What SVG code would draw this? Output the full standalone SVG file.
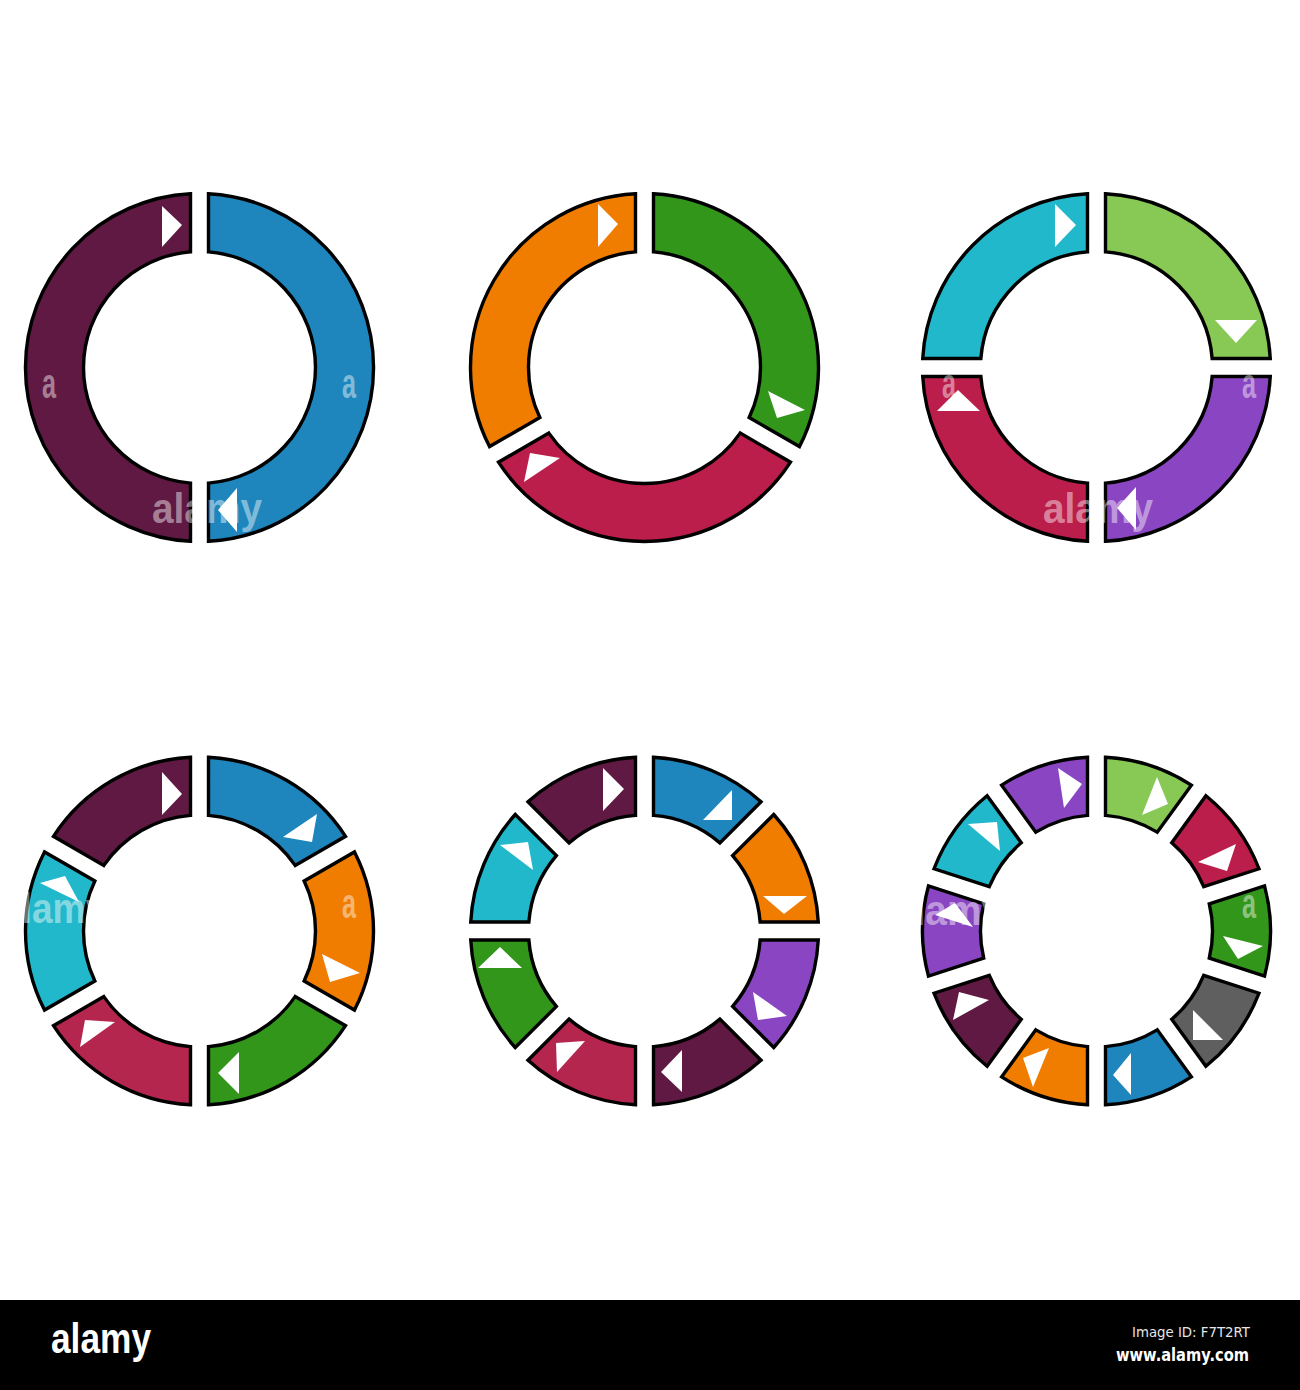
<svg xmlns="http://www.w3.org/2000/svg" width="1300" height="1390" viewBox="0 0 1300 1390">
<style>
.seg{stroke:#000;stroke-width:3.4;stroke-linejoin:miter}
.tri{fill:#fff}
.wm{fill:#fff;fill-opacity:0.45;font-family:"Liberation Sans Narrow","Liberation Sans",Arial,sans-serif;font-weight:bold;font-size:42px}
.logo{fill:#fff;font-family:"Liberation Sans Narrow","Liberation Sans",Arial,sans-serif;font-weight:bold;font-size:42px}
.info{fill:#e6e6e6;font-family:"DejaVu Sans","Open Sans",sans-serif;font-size:14px}
.url{fill:#fff;font-family:"DejaVu Sans","Open Sans",sans-serif;font-weight:bold;font-size:18px}
</style>
<defs>
<path id="seg2" d="M9,-173.77 A174,174 0 0 1 9,173.77 L9,115.65 A116,116 0 0 0 9,-115.65 Z"/>
<path id="seg3" d="M94.68,-145.99 A174,174 0 0 1 94.68,145.99 L65.62,95.66 A116,116 0 0 0 65.62,-95.66 Z"/>
<path id="seg4" d="M129.24,-116.51 A174,174 0 0 1 129.24,116.51 L88.14,75.41 A116,116 0 0 0 88.14,-75.41 Z"/>
<path id="seg6" d="M154.99,-79.09 A174,174 0 0 1 154.99,79.09 L104.66,50.03 A116,116 0 0 0 104.66,-50.03 Z"/>
<path id="seg8" d="M163.98,-58.18 A174,174 0 0 1 163.98,58.18 L110.29,35.94 A116,116 0 0 0 110.29,-35.94 Z"/>
<path id="seg10" d="M168.04,-45.14 A174,174 0 0 1 168.04,45.14 L112.77,27.18 A116,116 0 0 0 112.77,-27.18 Z"/>
</defs>
<rect width="1300" height="1390" fill="#fff"/>

<!-- Ring 1: two segments -->
<g id="ring1">
<g id="r1-purple"><use href="#seg2" class="seg" fill="#5f1942" transform="translate(199.5,367.5) rotate(180)"/><polygon class="tri" points="162,206 162,247 182,225"/></g>
<g id="r1-blue"><use href="#seg2" class="seg" fill="#1e86bc" transform="translate(199.5,367.5)"/><polygon class="tri" points="237,488 237,532 218,510"/></g>
</g>

<!-- Ring 2: three segments -->
<g id="ring2">
<g id="r2-green"><use href="#seg3" class="seg" fill="#31961a" transform="translate(644.5,367.5) rotate(-30)"/><polygon class="tri" points="768,391 777,418 805,410"/></g>
<g id="r2-crimson"><use href="#seg3" class="seg" fill="#bb1e4a" transform="translate(644.5,367.5) rotate(90)"/><polygon class="tri" points="530,453 524,482 560,458"/></g>
<g id="r2-orange"><use href="#seg3" class="seg" fill="#f07d00" transform="translate(644.5,367.5) rotate(210)"/><polygon class="tri" points="598,204 598,247 618,224"/></g>
</g>

<!-- Ring 3: four segments -->
<g id="ring3">
<g id="r3-lightgreen"><use href="#seg4" class="seg" fill="#88c955" transform="translate(1096.5,367.5) rotate(-45)"/><polygon class="tri" points="1215,320 1257,320 1236,343"/></g>
<g id="r3-purple"><use href="#seg4" class="seg" fill="#8a46c2" transform="translate(1096.5,367.5) rotate(45)"/><polygon class="tri" points="1136,487 1136,530 1117,508"/></g>
<g id="r3-crimson"><use href="#seg4" class="seg" fill="#bb1e4a" transform="translate(1096.5,367.5) rotate(135)"/><polygon class="tri" points="937,411 980,411 958,390"/></g>
<g id="r3-cyan"><use href="#seg4" class="seg" fill="#22b8cb" transform="translate(1096.5,367.5) rotate(225)"/><polygon class="tri" points="1055,204 1055,247 1076,225"/></g>
</g>

<!-- Ring 4: six segments -->
<g id="ring4">
<g id="r4-blue"><use href="#seg6" class="seg" fill="#1e86bc" transform="translate(199.5,931) rotate(-60)"/><polygon class="tri" points="283,837 317,814 312,842"/></g>
<g id="r4-orange"><use href="#seg6" class="seg" fill="#f07d00" transform="translate(199.5,931)"/><polygon class="tri" points="322,954 330,982 360,973"/></g>
<g id="r4-green"><use href="#seg6" class="seg" fill="#31961a" transform="translate(199.5,931) rotate(60)"/><polygon class="tri" points="239,1052 239,1094 218,1073"/></g>
<g id="r4-crimson"><use href="#seg6" class="seg" fill="#b5264f" transform="translate(199.5,931) rotate(120)"/><polygon class="tri" points="85,1020 80,1047 115,1022"/></g>
<g id="r4-cyan"><use href="#seg6" class="seg" fill="#22b8cb" transform="translate(199.5,931) rotate(180)"/><polygon class="tri" points="40,883 65,876 79,902"/></g>
<g id="r4-purple"><use href="#seg6" class="seg" fill="#5f1942" transform="translate(199.5,931) rotate(240)"/><polygon class="tri" points="162,772 162,815 182,794"/></g>
</g>

<!-- Ring 5: eight segments -->
<g id="ring5">
<g id="r5-blue"><use href="#seg8" class="seg" fill="#1e86bc" transform="translate(644.5,931) rotate(-67.5)"/><polygon class="tri" points="703,820 732,790 732,820"/></g>
<g id="r5-orange"><use href="#seg8" class="seg" fill="#f07d00" transform="translate(644.5,931) rotate(-22.5)"/><polygon class="tri" points="763,896 807,896 784,914"/></g>
<g id="r5-purple"><use href="#seg8" class="seg" fill="#8a46c2" transform="translate(644.5,931) rotate(22.5)"/><polygon class="tri" points="753,992 758,1020 787,1016"/></g>
<g id="r5-darkpurple-b"><use href="#seg8" class="seg" fill="#5f1942" transform="translate(644.5,931) rotate(67.5)"/><polygon class="tri" points="682,1050 682,1092 661,1072"/></g>
<g id="r5-crimson"><use href="#seg8" class="seg" fill="#b5264f" transform="translate(644.5,931) rotate(112.5)"/><polygon class="tri" points="556,1043 585,1041 557,1072"/></g>
<g id="r5-green"><use href="#seg8" class="seg" fill="#31961a" transform="translate(644.5,931) rotate(157.5)"/><polygon class="tri" points="478,968 522,968 500,947"/></g>
<g id="r5-cyan"><use href="#seg8" class="seg" fill="#22b8cb" transform="translate(644.5,931) rotate(202.5)"/><polygon class="tri" points="500,845 528,842 533,870"/></g>
<g id="r5-darkpurple-t"><use href="#seg8" class="seg" fill="#5f1942" transform="translate(644.5,931) rotate(247.5)"/><polygon class="tri" points="603,768 603,811 624,789"/></g>
</g>

<!-- Ring 6: ten segments -->
<g id="ring6">
<g id="r6-lightgreen"><use href="#seg10" class="seg" fill="#88c955" transform="translate(1096.5,931) rotate(-72)"/><polygon class="tri" points="1157,777 1142,815 1168,804"/></g>
<g id="r6-crimson"><use href="#seg10" class="seg" fill="#bb1e4a" transform="translate(1096.5,931) rotate(-36)"/><polygon class="tri" points="1198,862 1236,844 1227,871"/></g>
<g id="r6-green"><use href="#seg10" class="seg" fill="#31961a" transform="translate(1096.5,931)"/><polygon class="tri" points="1223,936 1238,959 1263,946"/></g>
<g id="r6-gray"><use href="#seg10" class="seg" fill="#5f5f5f" transform="translate(1096.5,931) rotate(36)"/><polygon class="tri" points="1193,1010 1193,1040 1223,1040"/></g>
<g id="r6-blue"><use href="#seg10" class="seg" fill="#1e86bc" transform="translate(1096.5,931) rotate(72)"/><polygon class="tri" points="1113,1075 1131,1053 1131,1095"/></g>
<g id="r6-orange"><use href="#seg10" class="seg" fill="#f07d00" transform="translate(1096.5,931) rotate(108)"/><polygon class="tri" points="1023,1058 1049,1048 1033,1087"/></g>
<g id="r6-darkpurple"><use href="#seg10" class="seg" fill="#5f1942" transform="translate(1096.5,931) rotate(144)"/><polygon class="tri" points="959,992 989,1000 953,1020"/></g>
<g id="r6-purple-l"><use href="#seg10" class="seg" fill="#8a46c2" transform="translate(1096.5,931) rotate(180)"/><polygon class="tri" points="935,915 955,903 973,927"/></g>
<g id="r6-cyan"><use href="#seg10" class="seg" fill="#22b8cb" transform="translate(1096.5,931) rotate(216)"/><polygon class="tri" points="968,824 997,822 1000,851"/></g>
<g id="r6-purple-t"><use href="#seg10" class="seg" fill="#8a46c2" transform="translate(1096.5,931) rotate(252)"/><polygon class="tri" points="1058,768 1064,808 1082,784"/></g>
</g>

<g id="connectors"/>

<!-- watermark -->
<g id="watermark">
<text class="wm" x="152" y="523" textLength="110" lengthAdjust="spacingAndGlyphs">alamy</text>
<text class="wm" x="1043" y="523" textLength="110" lengthAdjust="spacingAndGlyphs">alamy</text>
<text class="wm" x="1" y="923" textLength="105" lengthAdjust="spacingAndGlyphs">alamy</text>
<text class="wm" x="893" y="925" textLength="110" lengthAdjust="spacingAndGlyphs">alamy</text>
<text class="wm" x="42" y="398" textLength="14" lengthAdjust="spacingAndGlyphs">a</text>
<text class="wm" x="342" y="398" textLength="14" lengthAdjust="spacingAndGlyphs">a</text>
<text class="wm" x="942" y="398" textLength="14" lengthAdjust="spacingAndGlyphs">a</text>
<text class="wm" x="1242" y="398" textLength="14" lengthAdjust="spacingAndGlyphs">a</text>
<text class="wm" x="342" y="918" textLength="14" lengthAdjust="spacingAndGlyphs">a</text>
<text class="wm" x="1242" y="918" textLength="14" lengthAdjust="spacingAndGlyphs">a</text>
</g>

<!-- footer bar -->
<g id="footer">
<rect x="0" y="1300" width="1300" height="90" fill="#000"/>
<text class="logo" x="51" y="1353" textLength="100" lengthAdjust="spacingAndGlyphs">alamy</text>
<text class="info" x="1132" y="1337" textLength="118" lengthAdjust="spacingAndGlyphs">Image ID: F7T2RT</text>
<text class="url" x="1116" y="1361" textLength="133" lengthAdjust="spacingAndGlyphs">www.alamy.com</text>
</g>
</svg>
